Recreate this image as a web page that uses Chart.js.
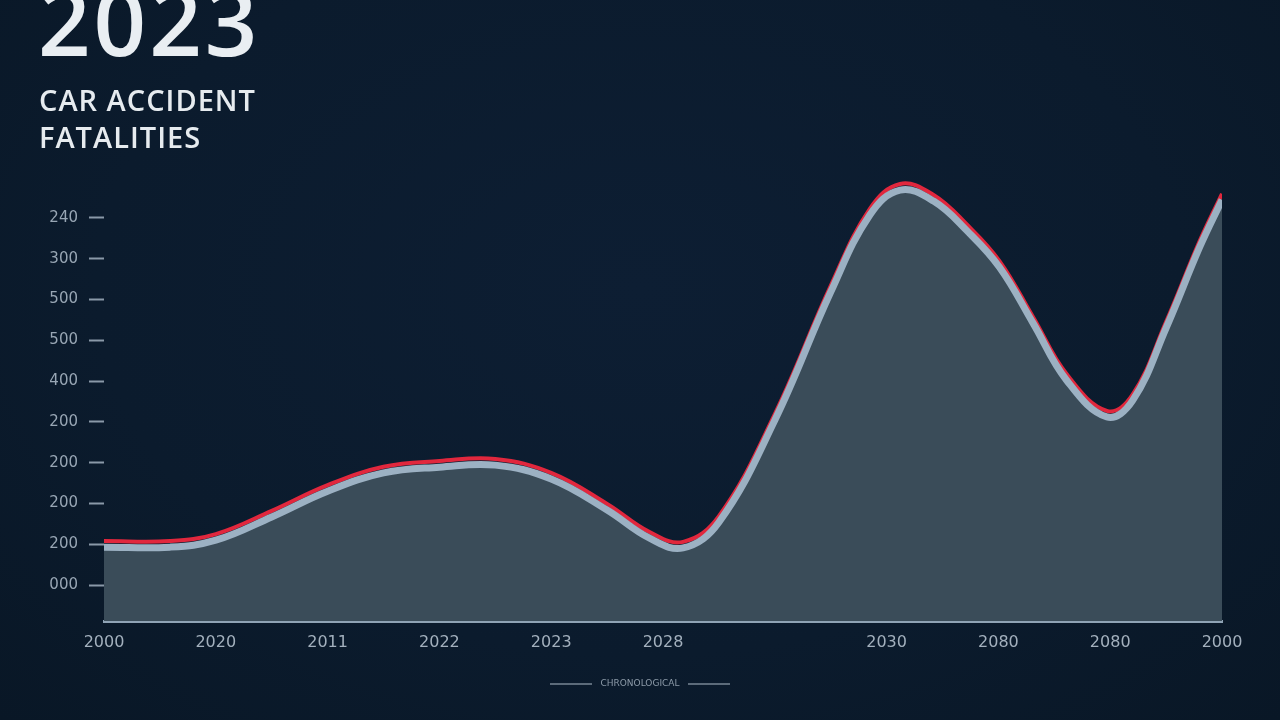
<!DOCTYPE html>
<html>
<head>
<meta charset="utf-8">
<script src="https://cdn.jsdelivr.net/npm/chart.js@4.4.1/dist/chart.umd.min.js"></script>
<style>
  html,body{margin:0;padding:0;width:1280px;height:720px;overflow:hidden;background:#0b1b2d;}
  #wrap{position:absolute;left:0;top:0;width:1280px;height:720px;
    background:radial-gradient(ellipse at 50% 40%, #0d1e33 0%, #0b1b2d 60%, #091726 100%);}
  canvas{position:absolute;left:0;top:0;}
  .t1{position:absolute;left:38px;top:-25px;font-family:"Open Sans",sans-serif;font-weight:600;font-size:92px;color:#e9eef2;letter-spacing:3px;line-height:1;}
  .t2{position:absolute;left:39px;top:81px;font-family:"Open Sans",sans-serif;font-weight:600;font-size:29px;color:#e6ebef;line-height:37px;letter-spacing:1px;}
  .leg{position:absolute;top:678px;left:0;width:1280px;text-align:center;font-family:"DejaVu Sans",sans-serif;font-size:9px;color:#8c9aa8;}
  .leg span.l{display:inline-block;width:42px;height:2px;background:#5c6b7a;vertical-align:middle;margin:0 8px;}
</style>
</head>
<body>
<div id="wrap">
  <canvas id="c" width="1280" height="720"></canvas>
  <div class="t1">2023</div>
  <div class="t2">CAR ACCIDENT<br>FATALITIES</div>
  <div class="leg"><span class="l"></span>CHRONOLOGICAL<span class="l"></span></div>
</div>
<script>
const xLabels = ['2000','2020','2011','2022','2023','2028','','2030','2080','2080','2000'];
const yLabels = ['000','200','200','200','200','400','500','500','300','240'];
const periods = [0,0.59,1.0,1.5,2.0,2.5,3.0,3.5,4.0,4.5,4.88,5.18,5.5,6.0,6.5,6.85,7.12,7.42,7.72,8.01,8.31,8.61,8.97,9.2,9.5,9.8,10];
const fatalities = [93,93,110,167,230,275,289,294,260,184,115,91,154,404,718,907,968,941,868,779,642,502,412,452,630,828,944];
const fatalitiesUpper = [108,108,125,182,245,290,304,309,275,199,130,106,169,419,733,922,983,956,883,794,657,517,427,467,645,843,959];

const toXY = (xs, ys) => xs.map((x,i)=>({x:x, y:ys[i]}));

new Chart(document.getElementById('c'), {
  type: 'line',
  data: {
    datasets: [
      {
        label: 'Fatalities',
        data: toXY(periods, fatalities),
        borderColor: '#9cb1c3',
        borderWidth: 7,
        backgroundColor: '#3a4c59',
        fill: 'start',
        pointRadius: 0,
        tension: 0.4,
        order: 1
      },
      {
        label: 'Trend',
        data: toXY(periods, fatalitiesUpper),
        borderColor: '#e1273d',
        borderWidth: 4,
        fill: false,
        pointRadius: 0,
        tension: 0.4,
        order: 2
      }
    ]
  },
  options: {
    responsive: false,
    animation: false,
    events: [],
    layout: { padding: { left: 0, right: 58, top: 177, bottom: 0 } },
    plugins: { legend: { display: false }, tooltip: { enabled: false } },
    scales: {
      x: {
        type: 'linear',
        min: 0, max: 10,
        afterBuildTicks: (ax) => { ax.ticks = xLabels.map((_, i) => ({ value: i })); },
        afterFit: (ax) => { ax.height = 99; },
        grid: { display: false },
        border: { display: true, color: '#8fa3b5', width: 3 },
        ticks: {
          autoSkip: false,
          maxRotation: 0,
          padding: 4,
          color: '#a3b0bd',
          font: { family: 'DejaVu Sans', size: 16 },
          callback: (v) => xLabels[v] ?? ''
        }
      },
      y: {
        type: 'linear',
        min: -88, max: 1000,
        afterBuildTicks: (ax) => { ax.ticks = yLabels.map((_, i) => ({ value: i * 100 })); },
        afterFit: (ax) => { ax.width = 104; },
        grid: { drawOnChartArea: false, drawTicks: true, tickLength: 15, tickColor: '#8a99a8', tickWidth: 2 },
        border: { display: false },
        ticks: {
          padding: 11,
          color: '#98a6b4',
          font: { family: 'DejaVu Sans', size: 15 },
          callback: (v) => yLabels[Math.round(v / 100)] ?? ''
        }
      }
    }
  }
});
</script>
</body>
</html>
